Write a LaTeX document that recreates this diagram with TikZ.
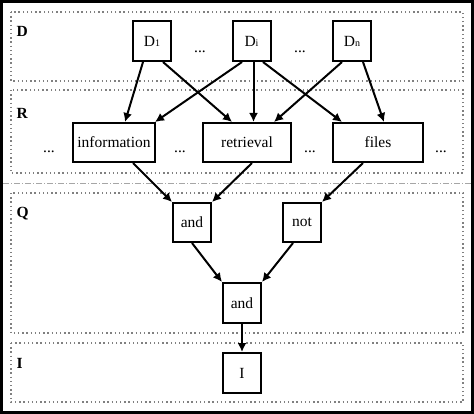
\documentclass[tikz,border=0pt]{standalone}
\usepackage{fontspec}
\setmainfont{Liberation Serif}
\usetikzlibrary{arrows.meta}
\newcommand{\docidx}[1]{{\fontsize{10}{12}\selectfont #1}}
\begin{document}
\begin{tikzpicture}
[
x=1pt, y=-1pt,
every node/.style={font=\fontsize{15.5}{18}\selectfont},
Frame/.style={draw=black, line width=3pt},
Layer/.style={draw=black!50, line width=1.4pt, dash pattern=on 1.4pt off 2.8pt},
Separator/.style={draw=black!35, line width=0.9pt, dash pattern=on 6pt off 2pt on 1pt off 2pt},
Label/.style={anchor=west, inner sep=0pt, font=\fontsize{15.5}{18}\selectfont\bfseries},
Box/.style={rectangle, draw=black, line width=2pt, inner sep=0pt, minimum height=39pt},
Small/.style={Box, minimum width=38pt},
Dots/.style={inner sep=0pt},
Arrow/.style={-{Latex[length=9pt,width=9pt]}, line width=2pt, draw=black}
]
\useasboundingbox (0,0) rectangle (474,414);
\draw[Frame] (1.5,1.5) rectangle (472.5,412.5);

% layers
\draw[Layer] (11,12) rectangle (463,81);
\draw[Layer] (11,90) rectangle (463,173);
\draw[Separator] (3,183) -- (471,183);
\draw[Layer] (11,193) rectangle (463,333);
\draw[Layer] (11,343) rectangle (463,402);

\node[Label] (LabD) at (16.5,31.7) {D};
\node[Label] (LabR) at (16.5,113.3) {R};
\node[Label] (LabQ) at (16.5,214) {Q};
\node[Label] (LabI) at (16.5,363.3) {I};

% documents
\node[Small, minimum height=40pt] (D1) at (152,41) {D\docidx{1}};
\node[Small, minimum height=40pt] (Di) at (251.5,41) {D\docidx{i}};
\node[Small, minimum height=40pt] (Dn) at (352,41) {D\docidx{n}};
\node[Dots] (DotsDa) at (200,52) {...};
\node[Dots] (DotsDb) at (300,52) {...};

% representations
\node[Box, minimum width=82pt] (Info) at (114,142.5) {information};
\node[Box, minimum width=88pt] (Retr) at (247,142.5) {retrieval};
\node[Box, minimum width=90pt] (Files) at (378,142.5) {files};
\node[Dots] (DotsRa) at (49,152) {...};
\node[Dots] (DotsRb) at (180,152) {...};
\node[Dots] (DotsRc) at (310,152) {...};
\node[Dots] (DotsRd) at (441,152) {...};

% query
\node[Small] (And1) at (192,222.5) {and};
\node[Small] (Not) at (302,222.5) {not};
\node[Small, minimum height=40pt] (And2) at (242,303) {and};

% information need
\node[Small, minimum height=40pt] (Need) at (242,373) {I};

\draw[Arrow] ([xshift=-9]D1.south) -- ([xshift=11]Info.north);
\draw[Arrow] ([xshift=11]D1.south) -- ([xshift=-15]Retr.north);
\draw[Arrow] ([xshift=-9.5]Di.south) -- ([xshift=-1]Info.north east);
\draw[Arrow] ([xshift=2]Di.south) -- ([xshift=2]Di.south |- Retr.north);
\draw[Arrow] ([xshift=11.5]Di.south) -- ([xshift=-36]Files.north);
\draw[Arrow] ([xshift=-10]Dn.south) -- ([xshift=27]Retr.north);
\draw[Arrow] ([xshift=11]Dn.south) -- ([xshift=6]Files.north);

\draw[Arrow] ([xshift=19]Info.south) -- (And1.north west);
\draw[Arrow] ([xshift=5]Retr.south) -- (And1.north east);
\draw[Arrow] ([xshift=-15]Files.south) -- (Not.north east);
\draw[Arrow] (And1.south) -- (And2.north west);
\draw[Arrow] ([xshift=-9]Not.south) -- (And2.north east);
\draw[Arrow] (And2.south) -- (Need.north);
\end{tikzpicture}
\end{document}
